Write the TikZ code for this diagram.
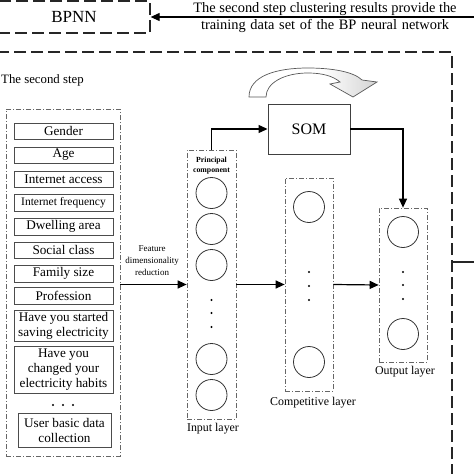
\documentclass[tikz,border=0pt]{standalone}
\usepackage{fontspec}
\setmainfont{Liberation Serif}
\usetikzlibrary{arrows.meta}
\begin{document}
\begin{tikzpicture}[x=1pt,y=-1pt,
  arr/.style={line width=1.2pt, -{Triangle[length=9pt,width=8pt]}},
  item/.style={draw=black!70, line width=0.8pt, minimum width=99pt, inner sep=0pt, align=center, font=\fontsize{13.2}{15}\selectfont},
  layerbox/.style={draw=black!60, line width=0.7pt, dash pattern=on 5pt off 2pt on 1pt off 2pt, inner sep=0pt},
  neuron/.style={circle, draw=black!80, line width=0.8pt, minimum size=31pt, inner sep=0pt},
  bigdash/.style={draw=black!85, line width=1.3pt, dash pattern=on 12pt off 5pt, inner sep=0pt},
  lbl/.style={font=\fontsize{11.9}{13}\selectfont, inner sep=0pt},
  dotmark/.style={fill=black, circle, inner sep=0pt, minimum size=2.4pt},
]
\useasboundingbox (0,0) rectangle (474,474);
\clip (0,0) rectangle (474,474);

% top part
\node[bigdash, minimum width=152pt, minimum height=32pt, font=\fontsize{17}{19}\selectfont] (bpnn) at (74,17) {BPNN};
\node[align=center, font=\fontsize{14.4}{17}\selectfont, inner sep=0pt] (toptext) at (325,17.5) {The second step clustering results provide the\\\makebox[248pt][s]{training data set of the BP neural network}};
\coordinate (topin) at (478,17);
\draw[arr] (topin) -- (bpnn.east);

% second step frame
\node[bigdash, minimum width=462pt, minimum height=438pt] (step2) at (221,271) {};
\coordinate (rightout) at (478,262);
\draw[line width=1.2pt, black!85] (step2.east |- rightout) -- (rightout);
\node[anchor=west, font=\fontsize{12.8}{15}\selectfont, inner sep=0pt] (steplbl) at (1,80) {The second step};

% items
\node[layerbox, minimum width=114pt, minimum height=347pt] (itembox) at (63,282.5) {};
\node[item, minimum height=16pt] (i1) at (63.5,131) {Gender};
\node[item, minimum height=16pt] (i2) at (63.5,155) {Age};
\node[item, minimum height=16pt] (i3) at (63.5,179) {Internet access};
\node[item, minimum height=17pt, font=\fontsize{11.5}{13}\selectfont] (i4) at (63.5,202.5) {Internet frequency};
\node[item, minimum height=17pt] (i5) at (63.5,226.5) {Dwelling area};
\node[item, minimum height=16pt] (i6) at (63.5,250) {Social class};
\node[item, minimum height=17pt] (i7) at (63.5,273.5) {Family size};
\node[item, minimum height=17pt] (i8) at (63.5,295.5) {Profession};
\node[item, minimum height=31pt] (i9) at (63.5,325.5) {Have you started\\saving electricity};
\node[item, minimum height=47pt] (i10) at (63.5,369.5) {Have you\\changed your\\electricity habits};
\node[dotmark] (d1) at (53,405) {};
\node[dotmark] (d2) at (63,405) {};
\node[dotmark] (d3) at (73,405) {};
\node[item, minimum width=93pt, minimum height=34pt] (i11) at (64.5,430) {User basic data\\collection};

% layers
\node[layerbox, minimum width=49pt, minimum height=269pt] (inbox) at (211.5,284.5) {};
\node[layerbox, minimum width=48pt, minimum height=213pt] (compbox) at (309,284.5) {};
\node[layerbox, minimum width=48pt, minimum height=154pt] (outbox) at (403,285) {};

\node[align=center, font=\bfseries\fontsize{7.8}{10}\selectfont, inner sep=0pt] (pc) at (211.5,166) {Principal\\component};
\node[neuron] (n1) at (211.5,193) {};
\node[neuron] (n2) at (211.5,229) {};
\node[neuron] (n3) at (211.5,265) {};
\node[dotmark] (e1) at (211.5,300) {};
\node[dotmark] (e2) at (211.5,313) {};
\node[dotmark] (e3) at (211.5,327) {};
\node[neuron] (n4) at (211.5,359) {};
\node[neuron] (n5) at (211.5,395) {};

\node[neuron] (c1) at (309,207) {};
\node[dotmark] (f1) at (309,272) {};
\node[dotmark] (f2) at (309,286) {};
\node[dotmark] (f3) at (309,300) {};
\node[neuron] (c2) at (309,362) {};

\node[neuron] (o1) at (403,232) {};
\node[dotmark] (g1) at (403,272) {};
\node[dotmark] (g2) at (403,285) {};
\node[dotmark] (g3) at (403,299) {};
\node[neuron] (o2) at (403,334) {};

\node[lbl] (inlbl) at (213,429) {Input layer};
\node[lbl] (complbl) at (313,403) {Competitive layer};
\node[lbl] (outlbl) at (405,372) {Output layer};

% SOM
\node[draw=black!75, line width=0.9pt, minimum width=82pt, minimum height=50pt, inner sep=0pt, font=\fontsize{16}{18}\selectfont] (som) at (309,129) {SOM};

% arrows
\node[align=center, font=\fontsize{9}{12}\selectfont, inner sep=0pt] (feat) at (152,261) {Feature\\dimensionality\\reduction};
\draw[arr] (itembox.east |- inbox.west) -- (inbox.west);
\draw[arr] (inbox.east) -- (compbox.west);
\draw[arr] (compbox.east) -- (outbox.west);
\draw[arr] (inbox.north) |- (som.west);
\draw[arr] (som.east) -| (outbox.north);

% curved block arrow
\def\curvearrowpath{(249,97) .. controls (249,76) and (276,68) .. (308,68)
  .. controls (333,68) and (354,72) .. (362,80)
  -- (377,82) -- (353,97) -- (330,84) -- (340,82)
  .. controls (333,76) and (322,73) .. (308,73)
  .. controls (284,73) and (266,83) .. (266,97) -- cycle}
\begin{scope}
  \clip \curvearrowpath;
  \fill[white] (240,60) rectangle (390,100);
  \shade[left color=white, right color=black!18] (322,60) rectangle (380,100);
\end{scope}
\draw[draw=black!65, line width=0.7pt] \curvearrowpath;
\end{tikzpicture}
\end{document}
